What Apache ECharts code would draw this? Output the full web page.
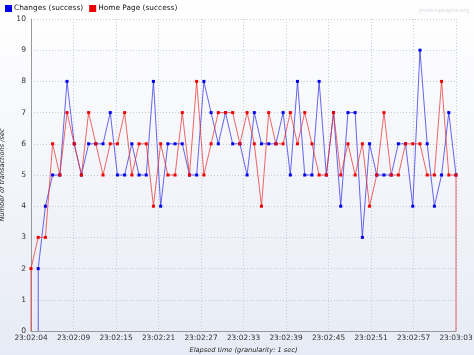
<!DOCTYPE html>
<html>
<head>
<meta charset="utf-8">
<script src="https://cdn.jsdelivr.net/npm/echarts@6/dist/echarts.min.js"></script>
<style>
  html, body { margin: 0; padding: 0; background: #fff; }
  #chart { width: 474px; height: 355px; }
</style>
</head>
<body>
<div id="chart"></div>
<script>
// transactions per second, one value per second from 23:02:04
var startSec = 2 * 60 + 4;          // 23:02:04
var changesStart = 1;               // first second with data for Changes
var changes = [2, 4, 5, 5, 8, 6, 5, 6, 6, 6, 7, 5, 5, 6, 5, 5, 8, 4, 6, 6,
  6, 5, 5, 8, 7, 6, 7, 6, 6, 5, 7, 6, 6, 6, 7, 5, 8, 5, 5, 8,
  5, 7, 4, 7, 7, 3, 6, 5, 5, 5, 6, 6, 4, 9, 6, 4, 5, 7, 5];
var homeStart = 0;
var homePage = [2, 3, 3, 6, 5, 7, 6, 5, 7, 6, 5, 6, 6, 7, 5, 6, 6, 4, 6, 5,
  5, 7, 5, 8, 5, 6, 7, 7, 7, 6, 7, 6, 4, 7, 6, 6, 7, 6, 7, 6,
  5, 5, 7, 5, 6, 5, 6, 4, 5, 7, 5, 5, 6, 6, 6, 5, 5, 8, 5, 5];
var seriesNames = ['Changes (success)', 'Home Page (success)'];

// x is in tenths of a second so the 5.9 s tick step stays an integer
function buildData(start, values, dropAtEnd) {
  var out = [{ value: [start * 10, 0], symbolSize: 0 }];
  values.forEach(function (v, i) {
    out.push([(start + i) * 10, v]);
  });
  if (dropAtEnd) {
    out.push({ value: [(start + values.length - 1) * 10, 0], symbolSize: 0 });
  }
  return out;
}

function timeLabel(v) {
  var total = startSec + Math.floor(v / 10 + 1e-6);
  var m = Math.floor(total / 60), s = total % 60;
  return '23:' + (m < 10 ? '0' : '') + m + ':' + (s < 10 ? '0' : '') + s;
}

var chart = echarts.init(document.getElementById('chart'));
chart.setOption({
  animation: false,
  backgroundColor: new echarts.graphic.LinearGradient(0, 0, 0, 1, [
    { offset: 0, color: '#ffffff' },
    { offset: 1, color: '#e7ebf5' }
  ]),
  textStyle: { fontFamily: 'DejaVu Sans' },
  graphic: [{
    type: 'text', right: 5, top: 8,
    style: { text: 'jmeter-plugins.org', fill: '#d4d8e0', font: '5.5px DejaVu Sans' }
  }],
  legend: {
    left: 5, top: 5, padding: 0, itemGap: 6,
    itemWidth: 7, itemHeight: 7, icon: 'rect',
    textStyle: { fontSize: 7.4, color: '#111', padding: [0, 0, 0, -3] },
    data: seriesNames
  },
  grid: { left: 31, right: 18, top: 19, bottom: 24, containLabel: false, outerBoundsMode: 'none' },
  xAxis: {
    type: 'value', min: 0, max: 590, interval: 59,
    name: 'Elapsed time (granularity: 1 sec)',
    nameLocation: 'middle', nameGap: 14,
    nameTextStyle: { fontSize: 6.6, fontStyle: 'italic', color: '#222' },
    axisLine: { lineStyle: { color: '#999' } },
    axisTick: { show: false },
    axisLabel: { fontSize: 7.4, color: '#333', margin: 4, formatter: timeLabel },
    splitLine: { lineStyle: { color: '#c8ccd4', type: [1, 2] } }
  },
  yAxis: {
    type: 'value', min: 0, max: 10, interval: 1,
    name: 'Number of transactions /sec',
    nameLocation: 'middle', nameGap: 21, nameRotate: 90,
    nameTextStyle: { fontSize: 6.6, fontStyle: 'italic', color: '#222' },
    axisLine: { show: true, lineStyle: { color: '#999' } },
    axisTick: { show: false },
    axisLabel: { fontSize: 7.6, color: '#333', margin: 5 },
    splitLine: { lineStyle: { color: '#c8ccd4', type: [1, 2] } }
  },
  series: [
    {
      name: seriesNames[0], type: 'line',
      data: buildData(changesStart, changes, false),
      symbol: 'rect', symbolSize: 3,
      itemStyle: { color: '#0000ee' },
      lineStyle: { color: 'rgba(40,40,230,0.7)', width: 1 }
    },
    {
      name: seriesNames[1], type: 'line',
      data: buildData(homeStart, homePage, true),
      symbol: 'rect', symbolSize: 3,
      itemStyle: { color: '#ee0000' },
      lineStyle: { color: 'rgba(235,40,40,0.7)', width: 1 }
    }
  ]
});
</script>
</body>
</html>
